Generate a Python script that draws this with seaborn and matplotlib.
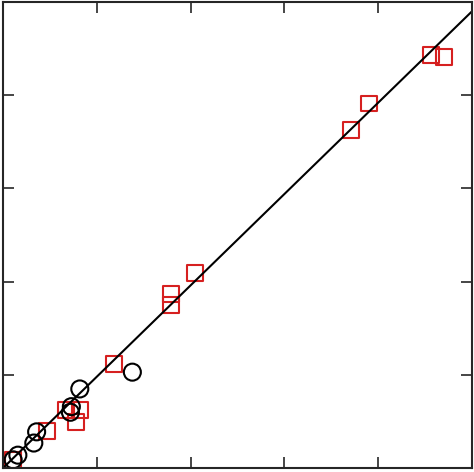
import matplotlib
matplotlib.use("Agg")
import matplotlib.pyplot as plt
import seaborn as sns
import pandas as pd

sq_x = [4.56, 4.70, 3.90, 3.71, 2.05, 1.79, 1.79, 1.18, 0.82, 0.67, 0.78, 0.47, 0.11]
sq_y = [4.43, 4.41, 3.91, 3.63, 2.09, 1.87, 1.75, 1.12, 0.62, 0.62, 0.50, 0.40, 0.09]
ci_x = [1.38, 0.82, 0.73, 0.72, 0.36, 0.33, 0.16, 0.11]
ci_y = [1.03, 0.85, 0.66, 0.60, 0.39, 0.27, 0.14, 0.09]
line_x = [0, 5]
line_y = [0, 4.9]

sns.set_style("ticks")
fig = plt.figure(figsize=(4.74, 4.72), dpi=100)
ax = fig.add_axes([0.006, 0.008, 0.99, 0.988])
sns.lineplot(x=line_x, y=line_y, color="black", lw=1.5, ax=ax)
sns.scatterplot(x=sq_x, y=sq_y, marker="s", s=130, facecolor="none",
                edgecolor="#d62020", linewidth=1.5, ax=ax)
sns.scatterplot(x=ci_x, y=ci_y, marker="o", s=150, facecolor="none",
                edgecolor="black", linewidth=1.5, ax=ax)
ax.set_xlim(0, 5)
ax.set_ylim(0, 5)
ax.set_xticks([1, 2, 3, 4])
ax.set_yticks([1, 2, 3, 4])
ax.tick_params(direction="in", length=8, width=1.2, top=True, right=True,
               labelbottom=False, labelleft=False)
for s in ax.spines.values():
    s.set_linewidth(1.5)
fig.savefig("out.png", dpi=100)
